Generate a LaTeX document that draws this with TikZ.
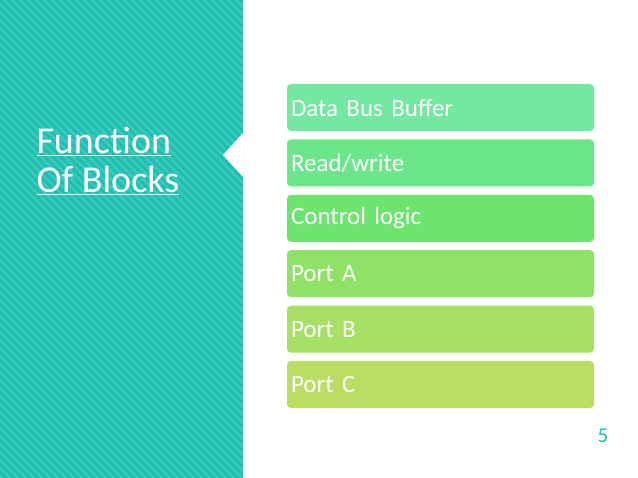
\documentclass[tikz,border=0pt]{standalone}
\usepackage{fontspec}
\setmainfont{Carlito}
\usetikzlibrary{positioning}
\definecolor{panel}{HTML}{1DBFB0}
\definecolor{stripe}{HTML}{3AC9BB}
\definecolor{numcol}{HTML}{1DBFB0}
\tikzset{
  bar/.style={rectangle,rounded corners=4pt,minimum width=307pt,minimum height=47pt,
    text width=299pt,align=left,inner sep=0pt,text=white,font=\fontsize{25}{28}\selectfont},
  title/.style={text=white,font=\fontsize{38}{42}\selectfont,align=left}
}
\begin{document}
\begin{tikzpicture}[x=1pt,y=-1pt]
    \useasboundingbox (0,0) rectangle (638,478);
    \fill[white] (0,0) rectangle (638,478);
    % striped panel
    \begin{scope}
    \clip (0,0) rectangle (243,478);
    \fill[panel] (0,0) rectangle (243,478);
    \foreach \i in {-500,-492,...,250}
        \draw[stripe,line width=2.5pt] (\i,0) -- (\i+478,478);
    \end{scope}
    \fill[white] (243,133) -- (223,155) -- (243,177) -- cycle;

    \node[title,anchor=north west] (head) at (33,124) {\underline{Function}\\[-3pt]\underline{Of Blocks}};

    \node[bar,fill={rgb,255:red,114;green,232;blue,160}] (dbb) at (440.5,107.5) {Data Bus Buffer};
    \node[bar,fill={rgb,255:red,108;green,230;blue,138},below=8pt of dbb] (rw) {Read/write};
    \node[bar,fill={rgb,255:red,108;green,229;blue,110},below=8pt of rw] (cl) {Control logic};
    \node[bar,fill={rgb,255:red,144;green,226;blue,102},below=8pt of cl] (pa) {Port A};
    \node[bar,fill={rgb,255:red,166;green,224;blue,100},below=8pt of pa] (pb) {Port B};
    \node[bar,fill={rgb,255:red,186;green,221;blue,100},below=8pt of pb] (pc) {Port C};

    \node[text=numcol,font=\fontsize{21}{24}\selectfont] (num) at (603,436) {5};
\end{tikzpicture}
\end{document}
